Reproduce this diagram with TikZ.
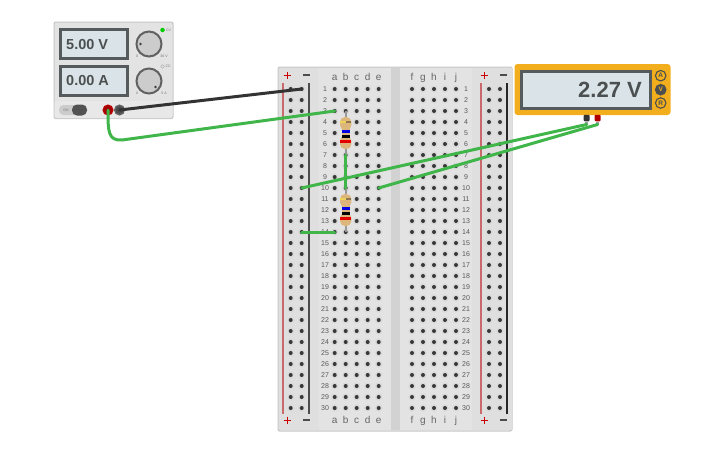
\documentclass[tikz,border=0pt]{standalone}
\usepackage{fontspec}
\setmainfont{Liberation Sans}
\usetikzlibrary{positioning}
\definecolor{boardgray}{HTML}{E3E3E3}
\definecolor{railgray}{HTML}{DFDFDF}
\definecolor{guttergray}{HTML}{D2D2D2}
\definecolor{wiregreen}{HTML}{3FB54A}
\definecolor{wireblack}{HTML}{333333}
\definecolor{lcdblue}{HTML}{DAE4E8}
\definecolor{lcdedge}{HTML}{555A5C}
\definecolor{caseamber}{HTML}{F2AE1C}
\definecolor{skintan}{HTML}{DDB67C}
\definecolor{railred}{HTML}{C9696B}
\definecolor{digitgray}{HTML}{4B4F50}
\tikzset{
  hole/.style={circle,fill=black!78,inner sep=0pt,minimum size=4pt},
  holering/.style={circle,fill=black!15,inner sep=0pt,minimum size=7.2pt},
  gridlabel/.style={font=\fontsize{7}{7}\selectfont,text=black!65,inner sep=0pt},
  letterlabel/.style={font=\fontsize{10}{10}\selectfont,text=black!60,inner sep=0pt,anchor=base},
  wire/.style={wiregreen,line width=3pt,line cap=round,line join=round},
  lcd/.style={draw=lcdedge,line width=3pt,fill=lcdblue},
  knob/.style={circle,draw=black!62,line width=2pt,fill=black!20,inner sep=0pt,minimum size=25pt},
  tinylabel/.style={font=\fontsize{3.5}{3.5}\selectfont,text=black!55,inner sep=0pt},
  modebutton/.style={circle,draw=digitgray,line width=1.1pt,inner sep=0pt,minimum size=10.5pt,font=\fontsize{6.5}{6.5}\selectfont\bfseries,text=digitgray},
  leadline/.style={black!40,line width=2.2pt},
  probe/.style={minimum width=6pt,minimum height=6.5pt,inner sep=0pt,rounded corners=1pt},
  probetip/.style={fill=black!38,minimum width=2.6pt,minimum height=2.6pt,inner sep=0pt},
  plussign/.style={red!80!black,line width=1pt},
  minussign/.style={black!70,line width=1.1pt},
}
% resistor: name, top y of the lead, bottom y of the lead
\newcommand{\resistor}[3]{
  \coordinate (#1top) at (345.7,#2);
  \coordinate (#1bot) at (345.7,#3);
  \draw[leadline] (#1top) -- (#1bot);
  \fill[skintan,rounded corners=5pt] (340,#2+6) rectangle (351.4,#2+19);
  \fill[skintan,rounded corners=5pt] (340,#2+25) rectangle (351.4,#2+38);
  \fill[skintan] (341.5,#2+14) rectangle (350,#2+30);
  \fill[black!35!skintan] (345.7,#2+10) rectangle (351.4,#2+12);
  \fill[yellow!40!skintan] (340,#2+10) rectangle (345.7,#2+12);
  \fill[blue!90!black] (341.5,#2+18.7) rectangle (350,#2+21.7);
  \fill[black] (341.5,#2+23.7) rectangle (350,#2+26.7);
  \fill[red!90!black] (340,#2+29.2) rectangle (351.4,#2+32.2);
}
\begin{document}
\begin{tikzpicture}[x=1pt,y=-1pt]
  \useasboundingbox (0,0) rectangle (725,453);

  % breadboard
  \fill[black!22,rounded corners=2pt] (277.5,66.5) rectangle (512.5,431.5);
  \fill[boardgray,rounded corners=2pt] (278.5,67.5) rectangle (511.5,430.5);
  \fill[railgray] (278.5,68) rectangle (318,430);
  \fill[railgray] (472,68) rectangle (511.5,430);
  \fill[guttergray] (391,68) rectangle (400,430);
  \draw[black!12] (318,68) -- (318,430);
  \draw[black!12] (472,68) -- (472,430);

  % rail lines and signs
  \draw[railred,line width=2pt] (283,83) -- (283,414);
  \draw[black!70,line width=1.3pt] (309,83) -- (309,414);
  \draw[railred,line width=2pt] (481,83) -- (481,414);
  \draw[black!85,line width=1.3pt] (507,83) -- (507,414);
  \foreach \yy in {75,420}{
    \draw[plussign] (283.5,\yy) -- (290.5,\yy) (287,\yy-3.5) -- (287,\yy+3.5);
    \draw[minussign] (303,\yy) -- (309.5,\yy);
    \draw[plussign] (480.5,\yy) -- (487.5,\yy) (484,\yy-3.5) -- (484,\yy+3.5);
    \draw[minussign] (500,\yy) -- (506.5,\yy);
  }

  % column letters
  \foreach \ll [count=\i from 0] in {a,b,c,d,e}{
    \node[letterlabel] (top\ll) at (334.7+11*\i,80) {\ll};
    \node[letterlabel] (bot\ll) at (334.7+11*\i,423.5) {\ll};
  }
  \foreach \ll [count=\i from 0] in {f,g,h,i,j}{
    \node[letterlabel] (top\ll) at (412+11*\i,80) {\ll};
    \node[letterlabel] (bot\ll) at (412+11*\i,423.5) {\ll};
  }

  % holes and row numbers
  \foreach \r in {1,...,30}{
    \pgfmathsetmacro{\yy}{89+11*(\r-1)}
    \node[gridlabel] (numl\r) at (325,\yy) {\r};
    \node[gridlabel] (numr\r) at (466,\yy) {\r};
    \foreach \xx in {290.7,301.7,334.7,345.7,356.7,367.7,378.7,412,423,434,445,456,489,500}{
      \node[holering] at (\xx,\yy) {};
      \node[hole] at (\xx,\yy) {};
    }
  }

  % resistors
  \resistor{ra}{111}{155}
  \resistor{rb}{188}{232}

  % power supply
  \fill[black!22,rounded corners=2pt] (53.5,21.5) rectangle (173.5,119);
  \fill[boardgray,rounded corners=2pt] (54.5,22.5) rectangle (172.5,118);
  \fill[black!9,rounded corners=2pt] (54.5,101) rectangle (172.5,118);
  \node[lcd,minimum width=67pt,minimum height=29pt,inner sep=0pt] (vscreen) at (93.5,44) {};
  \node[lcd,minimum width=67pt,minimum height=29pt,inner sep=0pt] (ascreen) at (93.5,81) {};
  \node[font=\bfseries\fontsize{14.5}{14.5}\selectfont,text=digitgray,anchor=west,inner sep=0pt] (vtext) at (66,45) {5.00 V};
  \node[font=\bfseries\fontsize{14.5}{14.5}\selectfont,text=digitgray,anchor=west,inner sep=0pt] (atext) at (66,81) {0.00 A};
  \node[knob] (vknob) at (149,44) {};
  \node[knob] (aknob) at (149,81) {};
  \fill[black!75] (140.5,44) circle (1.4pt);
  \fill[black!75] (155.5,87) circle (1.4pt);
  \node[circle,fill=green!80!black,inner sep=0pt,minimum size=4.5pt] (cvled) at (162.5,30) {};
  \node[circle,draw=black!35,inner sep=0pt,minimum size=3.6pt] (ccled) at (162.5,66.5) {};
  \node[tinylabel,right=1pt of cvled] (cvtext) {CV};
  \node[tinylabel,right=1pt of ccled] (cctext) {CC};
  \node[tinylabel] (vmin) at (137,56) {0};
  \node[tinylabel] (vmax) at (164,56) {30 V};
  \node[tinylabel] (amin) at (137,93) {0};
  \node[tinylabel] (amax) at (164,93) {5 A};
  \fill[black!20,rounded corners=4.5pt] (59,105) rectangle (87,115);
  \fill[black!68,rounded corners=5pt] (72,104.5) rectangle (87,115.5);
  \node[tinylabel] (ontext) at (66,110) {ON};
  \node[circle,fill=red!62!black,draw=red!72!black,line width=1.5pt,inner sep=0pt,minimum size=9.5pt] (plus) at (108,110) {};
  \node[circle,fill=black!70,line width=1.5pt,draw=black!62,inner sep=0pt,minimum size=9.5pt] (minus) at (119.5,110) {};

  % multimeter
  \fill[caseamber,rounded corners=3pt] (514.5,64) rectangle (670.5,115);
  \node[lcd,minimum width=129pt,minimum height=37pt,inner sep=0pt] (mscreen) at (585.5,89.5) {};
  \node[font=\bfseries\fontsize{22}{22}\selectfont,text=digitgray,anchor=east,inner sep=0pt] (mtext) at (642,89.5) {2.27 V};
  \node[modebutton] (modea) at (660.7,75.7) {A};
  \node[modebutton,fill=digitgray,text=caseamber] (modev) at (660.7,89.7) {V};
  \node[modebutton] (moder) at (660.7,103) {R};
  \node[probe,fill=black!80] (probeb) at (586.7,118) {};
  \node[probe,fill=red!70!black] (prober) at (597.7,118) {};
  \node[probetip,below=0pt of probeb] (tipb) {};
  \node[probetip,below=0pt of prober] (tipr) {};

  % wires
  \coordinate (railA) at (301.7,89);
  \coordinate (rowA) at (334.7,111);
  \coordinate (railB) at (301.7,188);
  \coordinate (rowE) at (378.7,188);
  \coordinate (railC) at (301.7,232);
  \coordinate (rowC) at (334.7,232);
  \draw[wireblack,line width=3pt,line cap=round] (minus.center) -- (railA);
  \draw[wire] (plus.center) .. controls (108,131) and (108,141) .. (122,140) -- (rowA);
  \draw[wire] (rabot) -- (rbtop);
  \draw[wire] (railB) -- (tipb.south);
  \draw[wire] (rowE) -- (tipr.south);
  \draw[wire] (railC) -- (rowC);
\end{tikzpicture}
\end{document}
